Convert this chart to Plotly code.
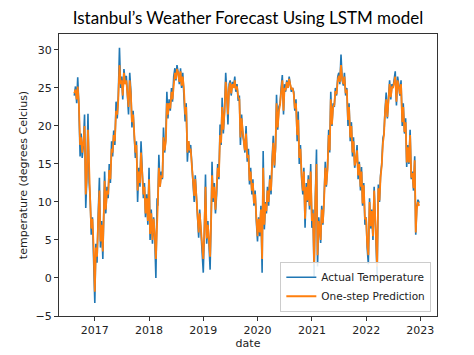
import plotly.graph_objects as go

years = [2016, 2017, 2018, 2019, 2020, 2021, 2022]
sample_days = [1, 8, 16, 24]

actual_2016 = [24.0, 25.2, 23.0, 26.4, 22.5, 16.0, 19.0, 15.8, 17.5, 21.5, 9.2, 13.0, 21.6, 12.5, 10.5, 5.7, 8.0, 3.1]
pred_2016 = [24.3, 24.8, 23.5, 25.2, 22.8, 17.5, 18.5, 16.5, 17.8, 20.0, 11.0, 13.2, 19.5, 13.0, 10.2, 6.5, 7.8, 4.0]

actual_2017 = [-3.3, 4.5, 2.0, 8.5, 13.2, 4.0, 7.5, 2.5, 9.0, 14.0, 8.5, 12.0, 10.5, 15.0, 12.5, 18.0,
               16.0, 19.4, 17.5, 23.2, 21.0, 24.0, 30.3, 25.0, 26.5, 23.5, 27.5, 25.8, 26.6, 24.0, 21.5, 27.0,
               24.5, 19.8, 22.0, 18.5, 15.8, 18.0, 10.0, 14.5, 12.0, 18.0, 13.6, 10.5, 12.5, 8.0, 11.0, 7.0]
pred_2017 = [-1.8, 4.0, 2.8, 7.8, 11.5, 4.8, 7.0, 3.5, 8.5, 12.8, 9.0, 11.5, 11.0, 14.2, 13.0, 17.0,
             16.5, 18.8, 18.0, 22.0, 21.5, 23.5, 28.0, 25.5, 26.0, 24.0, 27.0, 25.5, 26.0, 24.5, 22.5, 26.0,
             24.0, 20.5, 21.5, 18.8, 16.5, 17.5, 11.5, 14.0, 12.5, 16.5, 13.5, 11.0, 12.0, 8.5, 10.5, 7.5]

actual_2018 = [14.5, 5.0, 9.0, 4.5, 8.0, 5.5, 0.0, 10.5, 9.5, 16.2, 12.0, 14.0, 13.0, 19.8, 16.5, 18.5,
               24.5, 21.0, 23.5, 22.0, 25.0, 23.2, 26.5, 27.6, 26.0, 28.0, 27.0, 25.5, 27.6, 25.0, 27.0, 24.5,
               20.6, 23.0, 15.3, 18.0, 16.5, 17.5, 14.5, 12.0, 10.0, 13.5, 11.0, 7.5, 5.3, 9.0, 6.5, 3.5]
pred_2018 = [13.0, 5.8, 8.5, 5.0, 7.8, 6.0, 2.5, 9.5, 9.8, 14.5, 12.0, 13.5, 13.2, 18.5, 16.8, 18.0,
             23.0, 21.5, 23.0, 22.3, 24.5, 23.5, 26.0, 27.0, 26.2, 27.5, 27.0, 25.8, 27.2, 25.3, 26.5, 24.8,
             21.5, 22.5, 16.5, 18.0, 16.8, 17.0, 14.8, 12.5, 10.8, 13.0, 11.0, 8.0, 6.0, 8.5, 6.8, 4.5]

actual_2019 = [0.7, 6.0, 13.6, 4.5, 7.5, 4.5, 1.1, 9.0, 15.3, 10.0, 12.5, 8.5, 11.0, 15.0, 13.0, 20.2,
               17.5, 23.7, 19.0, 22.0, 27.0, 24.5, 20.2, 25.5, 26.0, 24.0, 25.8, 25.0, 26.5, 24.5, 25.5, 23.3,
               24.0, 17.5, 21.5, 18.7, 18.0, 16.5, 20.0, 15.3, 17.0, 12.3, 14.5, 11.0, 13.0, 9.5, 11.5, 7.5]
pred_2019 = [2.5, 5.8, 12.0, 5.2, 7.0, 5.0, 2.8, 8.5, 13.5, 10.5, 12.0, 9.0, 11.2, 14.5, 13.3, 18.8,
             17.8, 22.5, 19.5, 21.8, 25.8, 24.5, 21.5, 25.0, 25.7, 24.3, 25.5, 25.0, 26.0, 24.8, 25.2, 23.8,
             23.5, 18.5, 21.0, 18.8, 17.8, 16.8, 19.0, 15.8, 16.2, 12.8, 14.0, 11.5, 12.5, 9.8, 11.0, 8.0]

actual_2020 = [4.8, 8.0, 5.5, 9.5, 0.7, 16.7, 6.4, 10.0, 8.5, 12.0, 9.5, 13.5, 11.0, 15.5, 18.7, 14.5,
               17.0, 24.1, 19.5, 22.5, 23.0, 25.0, 26.7, 21.5, 25.5, 24.5, 26.0, 25.0, 26.5, 25.5, 24.5, 25.0,
               24.5, 22.0, 23.5, 18.0, 21.9, 15.0, 17.5, 13.0, 11.0, 14.5, 6.6, 12.5, 10.0, 13.5, 9.0, 15.0]
pred_2020 = [5.5, 7.8, 6.0, 9.0, 2.5, 14.5, 7.0, 9.8, 8.8, 11.5, 10.0, 13.0, 11.5, 15.0, 17.8, 14.8,
             17.2, 23.0, 19.8, 22.0, 22.8, 24.5, 26.0, 22.0, 25.0, 24.7, 25.8, 25.0, 26.2, 25.5, 24.8, 25.0,
             24.2, 22.3, 23.0, 18.8, 20.8, 15.8, 17.0, 13.5, 11.5, 14.0, 7.8, 12.0, 10.2, 13.0, 9.5, 14.0]

actual_2021 = [6.6, 9.0, 0.2, 10.5, 16.9, 1.5, 8.0, 6.0, 4.6, 9.5, 7.0, 10.5, 15.3, 12.0, 14.5, 19.5,
               16.5, 24.5, 20.0, 23.0, 22.5, 25.0, 24.0, 26.5, 27.0, 25.5, 29.4, 26.0, 25.3, 27.0, 24.0, 25.0,
               20.0, 23.0, 18.0, 20.5, 16.0, 18.5, 14.5, 15.5, 17.5, 13.0, 15.3, 11.5, 14.6, 9.5, 12.5, 7.0]
pred_2021 = [7.5, 8.5, 1.8, 10.0, 15.0, 3.0, 7.5, 6.2, 5.0, 9.0, 7.2, 10.2, 14.5, 12.2, 14.2, 18.8,
             16.8, 23.5, 20.2, 22.5, 22.8, 24.6, 24.2, 26.0, 26.6, 25.8, 28.0, 26.2, 25.5, 26.5, 24.3, 24.8,
             20.8, 22.5, 18.5, 20.0, 16.5, 18.0, 14.8, 15.5, 16.8, 13.5, 15.0, 12.0, 14.0, 9.8, 12.2, 7.8]

actual_2022 = [8.0, 4.0, 1.8, 10.5, 6.5, 9.0, 5.0, 12.0, 9.0, 5.5, 0.2, 12.3, 10.0, 13.5, 15.0, 18.4,
               19.0, 22.0, 24.4, 21.0, 24.0, 26.0, 23.5, 25.5, 25.0, 26.0, 27.2, 22.7, 26.5, 25.5, 24.0, 26.0,
               20.0, 23.0, 19.0, 21.0, 14.6, 17.5, 15.0, 19.5, 13.0, 14.0, 11.5, 16.0, 5.7, 9.3, 10.3, 9.9]
pred_2022 = [7.8, 4.5, 3.0, 10.0, 6.8, 8.8, 5.5, 11.5, 8.8, 6.0, 1.5, 11.8, 10.2, 13.2, 14.8, 17.8,
             18.8, 21.8, 23.5, 21.2, 23.8, 25.5, 23.8, 25.2, 25.0, 25.8, 26.5, 23.2, 26.0, 25.3, 24.2, 25.5,
             20.5, 22.5, 19.2, 20.5, 15.2, 17.2, 15.2, 18.8, 13.2, 13.8, 11.8, 15.5, 6.0, 9.0, 10.0, 9.5]

x_ticks = ["2017", "2018", "2019", "2020", "2021", "2022", "2023"]
y_ticks = [-5, 0, 5, 10, 15, 20, 25, 30]

actual_by_year = [actual_2016, actual_2017, actual_2018, actual_2019, actual_2020, actual_2021, actual_2022]
pred_by_year = [pred_2016, pred_2017, pred_2018, pred_2019, pred_2020, pred_2021, pred_2022]

dates, actual, pred = [], [], []
for yr, a_vals, p_vals in zip(years, actual_by_year, pred_by_year):
    if yr == 2016:
        slots = [(8, 16), (8, 24)] + [(m, d) for m in range(9, 13) for d in sample_days]
    else:
        slots = [(m, d) for m in range(1, 13) for d in sample_days]
    for (m, d), a, p in zip(slots, a_vals, p_vals):
        dates.append(f"{yr}-{m:02d}-{d:02d}")
        actual.append(a)
        pred.append(p)

fig = go.Figure()
fig.add_trace(go.Scatter(x=dates, y=actual, mode="lines", name="Actual Temperature",
                         line=dict(color="#1f77b4", width=1.6)))
fig.add_trace(go.Scatter(x=dates, y=pred, mode="lines", name="One-step Prediction",
                         line=dict(color="#ff7f0e", width=1.8)))

# The page body adds an 8px offset, so the figure is 8px smaller than the window.
W, H = 466, 347
axis_font = dict(family="DejaVu Sans", size=11, color="#222")
fig.update_layout(
    width=W, height=H,
    margin=dict(l=51, r=37, t=26, b=39),
    paper_bgcolor="white", plot_bgcolor="white",
    title=dict(text="Istanbul’s Weather Forecast Using LSTM model",
               font=dict(family="Lato", size=17, color="black"),
               x=240 / W, xanchor="center", xref="container",
               y=1 - 10 / H, yanchor="middle", yref="container", automargin=False),
    font=axis_font,
    legend=dict(x=0.985, xanchor="right", y=0.015, yanchor="bottom",
                bgcolor="rgba(255,255,255,0.85)", bordercolor="#cccccc", borderwidth=1,
                font=dict(family="DejaVu Sans", size=10.5, color="#222"),
                itemwidth=30, tracegroupgap=0),
    xaxis=dict(type="date", range=["2016-05-05", "2023-04-23"],
               tickvals=[f"{t}-01-01" for t in x_ticks], ticktext=x_ticks,
               showgrid=False, zeroline=False, showline=True, mirror=True, automargin=False,
               linecolor="#333", linewidth=1, ticks="outside", ticklen=4, tickcolor="#333",
               title=dict(text="date", font=axis_font, standoff=2)),
    yaxis=dict(range=[-5, 32.1], tickvals=y_ticks,
               showgrid=False, zeroline=False, showline=True, mirror=True, automargin=False,
               linecolor="#333", linewidth=1, ticks="outside", ticklen=4, tickcolor="#333",
               title=dict(text="temperature (degrees Celcius)", font=axis_font, standoff=5)),
)

fig.write_html("out.html")
